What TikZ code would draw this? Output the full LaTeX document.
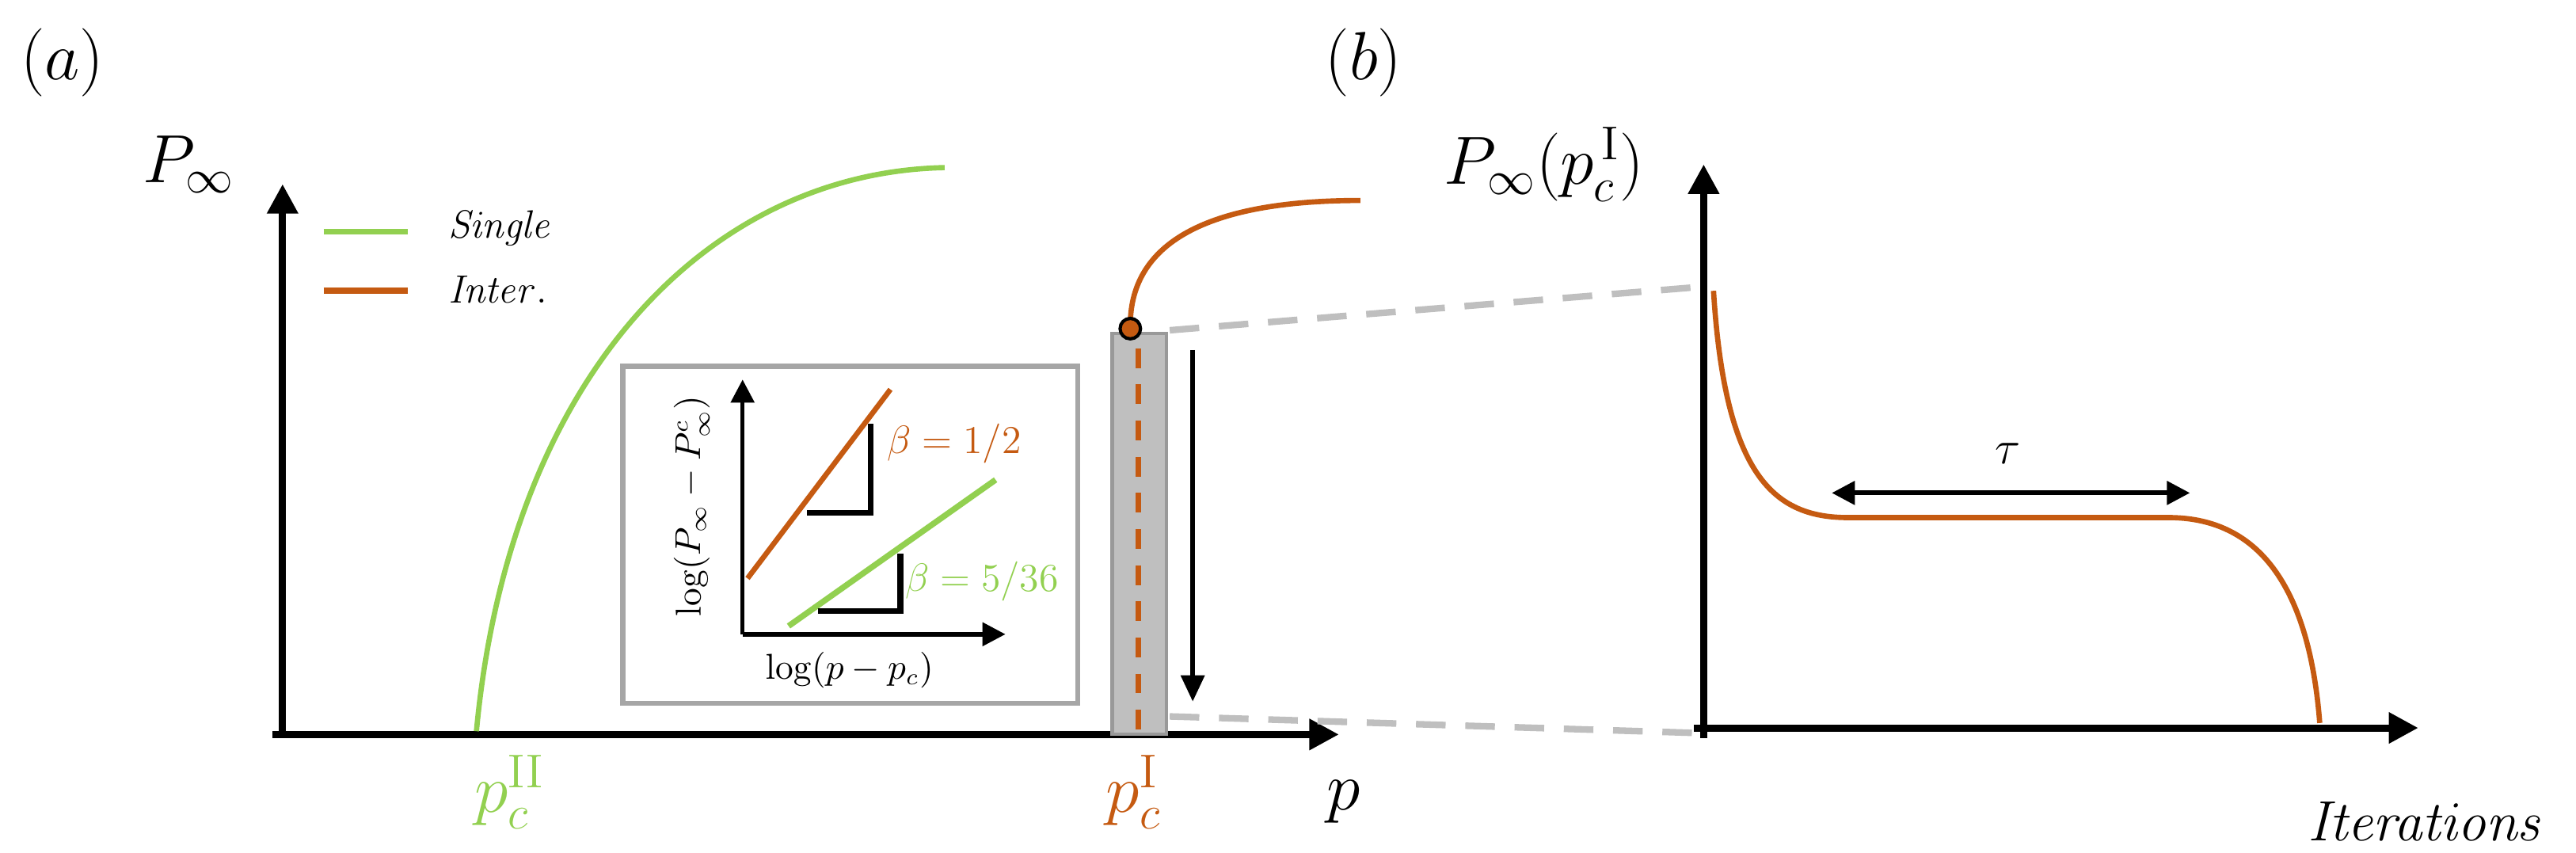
\documentclass[tikz,border=0pt]{standalone}
\usetikzlibrary{arrows.meta}
\definecolor{cgreen}{HTML}{92D050}
\definecolor{corange}{HTML}{C55A11}
\tikzset{ax/.style={line width=2.2pt,-{Triangle[length=9pt,width=9pt]}},
 crv/.style={line width=1.6pt},
 big/.style={font=\fontsize{21}{24}\selectfont},
 mid/.style={font=\fontsize{13}{15}\selectfont}}
\begin{document}
\begin{tikzpicture}[x=0.5pt,y=-0.5pt]
\useasboundingbox (0,0) rectangle (1568,519);
\node[big] (la) at (38,38) {$(a)$};
\node[big] (lb) at (830,38) {$(b)$};
% left axes
\coordinate (o1) at (172,447);
\coordinate (y1) at (172,112);
\coordinate (x1) at (815,447);
\draw[ax] (o1) -- (y1);
\draw[ax] (166,447) -- (x1);
\node[big] (Pinf) at (115,100) {$P_\infty$};
\node[big] (pl) at (818,488) {$p$};
\node[big,text=cgreen] (pII) at (310,482) {$p_c^{\mathrm{II}}$};
\node[big,text=corange] (pI) at (690,482) {$p_c^{\mathrm{I}}$};
% legend
\draw[cgreen,line width=1.8pt] (197,141) -- (248,141);
\draw[corange,line width=1.8pt] (197,177) -- (248,177);
\node[mid,anchor=west] (ls) at (266,139) {$\mathit{Single}$};
\node[mid,anchor=west] (li) at (266,176) {$\mathit{Inter.}$};
% curves
\draw[cgreen,crv] (290,445) .. controls (310,230) and (430,105) .. (575,102);
\draw[corange,crv] (688,198) .. controls (688,145) and (740,122) .. (828,122);
% bar
\draw[gray!80,fill=gray!50,line width=1pt] (677,203) rectangle (710,447);
\draw[corange,line width=1.6pt,dash pattern=on 6pt off 5pt] (693,212) -- (693,447);
\node[circle,draw=black,fill=corange,line width=1pt,inner sep=2.2pt] (dot) at (688,200) {};
\draw[line width=1.5pt,-{Triangle[length=8pt,width=7pt]}] (726,213) -- (726,427);
% dashed zoom lines
\draw[gray!50,line width=2pt,dash pattern=on 9pt off 6pt] (712,201) -- (1030,175);
\draw[gray!50,line width=2pt,dash pattern=on 9pt off 6pt] (712,436) -- (1030,446);
% inset
\draw[gray!70,line width=1.6pt,fill=white] (379,223) rectangle (656,428);
\draw[line width=1.3pt,-{Triangle[length=7pt,width=7pt]}] (452,386) -- (452,231);
\draw[line width=1.3pt,-{Triangle[length=7pt,width=7pt]}] (452,386) -- (612,386);
\draw[corange,line width=1.6pt] (455,352) -- (542,237);
\draw[cgreen,line width=1.8pt] (480,381) -- (606,292);
\draw[line width=1.8pt] (530,258) -- (530,312) -- (491,312);
\draw[line width=1.8pt] (548,337) -- (548,372) -- (498,372);
\node[font=\fontsize{12}{14}\selectfont,text=corange,anchor=west] (b1) at (533,270) {$\beta = 1/2$};
\node[font=\fontsize{12}{14}\selectfont,text=cgreen,anchor=west] (b2) at (544,354) {$\beta = 5/36$};
\node[font=\fontsize{10.5}{12}\selectfont,rotate=90] (ylab) at (421,308) {$\log(P_\infty - P_\infty^c)$};
\node[font=\fontsize{10.5}{12}\selectfont] (xlab) at (517,408) {$\log(p - p_c)$};
% right axes
\coordinate (o2) at (1037,443);
\draw[ax] (1037,449) -- (1037,100);
\draw[ax] (1031,443) -- (1472,443);
\node[big] (Pr) at (940,100) {$P_\infty(p_c^{\,\mathrm{I}})$};
\node[font=\fontsize{17}{19}\selectfont,anchor=east] (it) at (1556,500) {$\mathit{Iterations}$};
\draw[corange,crv] (1043,177) .. controls (1050,290) and (1080,315) .. (1125,315) -- (1320,315) .. controls (1370,315) and (1405,350) .. (1412,440);
\draw[line width=1.4pt,{Triangle[length=7pt,width=7pt]}-{Triangle[length=7pt,width=7pt]}] (1115,300) -- (1333,300);
\node[font=\fontsize{15}{17}\selectfont] (tau) at (1222,276) {$\tau$};
\end{tikzpicture}
\end{document}
